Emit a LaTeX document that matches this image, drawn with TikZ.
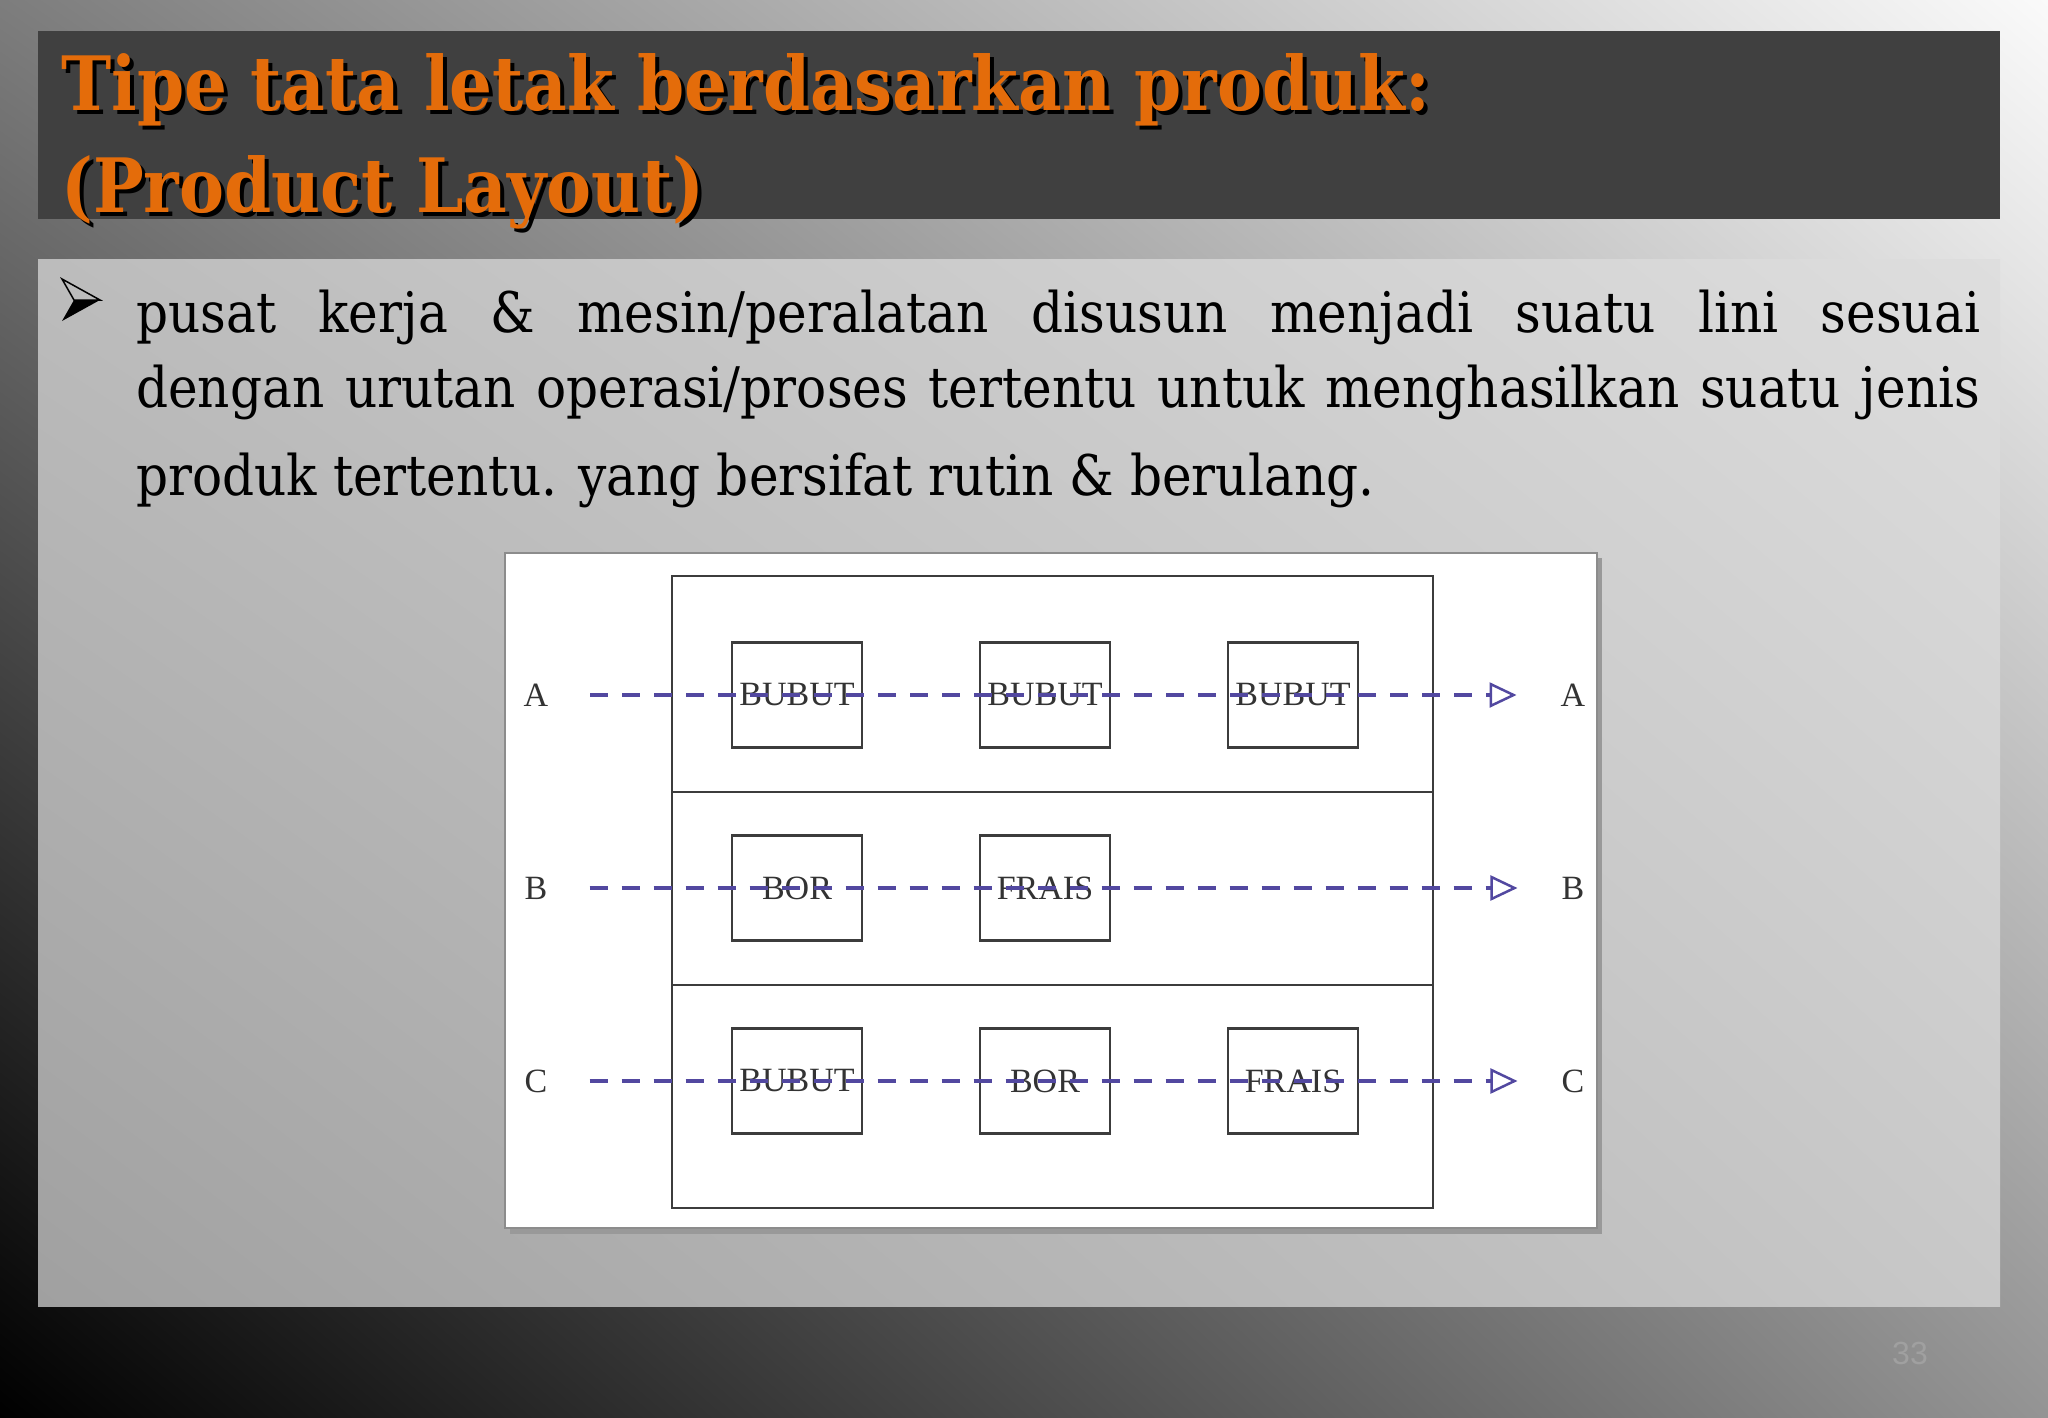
\documentclass[tikz,border=0pt]{standalone}
\usepackage{fontspec}
\usetikzlibrary{arrows.meta,shadings}
\newfontfamily\bodyfont{DejaVu Serif}[FakeStretch=0.895]
\newfontfamily\titlefont{DejaVu Serif}[FakeStretch=0.9]
\newfontfamily\diagfont{Liberation Serif}
\newfontfamily\numfont{Liberation Sans}
\definecolor{titleorange}{RGB}{228,108,10}
\definecolor{barbg}{RGB}{64,64,64}
\definecolor{flow}{RGB}{82,72,160}
\definecolor{boxline}{RGB}{60,60,60}
\definecolor{bgul}{RGB}{125,125,125}
\definecolor{bgur}{RGB}{250,250,250}
\definecolor{bglr}{RGB}{148,148,148}
\definecolor{pnul}{RGB}{188,188,188}
\definecolor{pnur}{RGB}{222,222,222}
\definecolor{pnll}{RGB}{160,160,160}
\definecolor{pnlr}{RGB}{200,200,200}
\definecolor{pagenum}{RGB}{160,160,160}
\begin{document}
\begin{tikzpicture}[x=1pt,y=-1pt,
  machine/.style={draw=boxline, line width=2.5pt, minimum width=130pt, minimum height=105pt, inner sep=0pt,
    font=\diagfont\fontsize{34}{34}\selectfont, text=black!80},
  rowlabel/.style={inner sep=0pt, font=\diagfont\fontsize{34}{34}\selectfont, text=black!80},
  flowline/.style={draw=flow, line width=3.5pt, dash pattern=on 18pt off 14pt,
    -{Triangle[open,length=27pt,width=25pt,line width=2.5pt]}, shorten <=42pt, shorten >=44pt},
  titletext/.style={anchor=base west, inner sep=0pt, font=\titlefont\bfseries\fontsize{75}{75}\selectfont},
  bodytext/.style={anchor=base west, inner sep=0pt, text=black, font=\bodyfont\fontsize{56}{56}\selectfont},
]
\useasboundingbox (0,0) rectangle (2048,1418);
% background
\shade[upper left=bgul, upper right=bgur, lower left=black, lower right=bglr] (0,0) rectangle (2048,1418);
% title bar
\fill[barbg] (38,31) rectangle (2000,219);
% content panel
\shade[upper left=pnul, upper right=pnur, lower left=pnll, lower right=pnlr] (38,259) rectangle (2000,1306);
% title
\node[titletext, text=black] at (65,115) {Tipe tata letak berdasarkan produk:};
\node[titletext, text=titleorange] (t1) at (61,111) {Tipe tata letak berdasarkan produk:};
\node[titletext, text=black] at (65,216) {(Product Layout)};
\node[titletext, text=titleorange] (t2) at (61,212) {(Product Layout)};
% bullet
\draw[black, line width=1.5pt, line join=miter] (62,279) -- (100,300) -- (74,300) -- cycle;
\fill[black] (74,300) -- (100,300) -- (62,321) -- cycle;
% body text
\node[bodytext] (b1) at (136,332) {\makebox[1844pt][s]{pusat kerja \& mesin/peralatan disusun menjadi suatu lini sesuai}};
\node[bodytext] (b2) at (136,407) {\makebox[1844pt][s]{dengan urutan operasi/proses tertentu untuk menghasilkan suatu jenis}};
\node[bodytext] (b3) at (136,495) {produk tertentu. yang bersifat rutin \& berulang.};
% diagram frame
\fill[black!40] (510,558) rectangle (1602,1234);
\filldraw[fill=white, draw=black!45, line width=1.5pt] (505,553) rectangle (1597,1228);
\draw[boxline, line width=2.5pt] (672,576) rectangle (1433,1208);
\draw[boxline, line width=2.5pt] (672,792) -- (1433,792);
\draw[boxline, line width=2.5pt] (672,985) -- (1433,985);
% machines
\node[machine] (a1) at (797,695) {BUBUT};
\node[machine] (a2) at (1045,695) {BUBUT};
\node[machine] (a3) at (1293,695) {BUBUT};
\node[machine] (b1m) at (797,888) {BOR};
\node[machine] (b2m) at (1045,888) {FRAIS};
\node[machine] (c1) at (797,1081) {BUBUT};
\node[machine] (c2) at (1045,1081) {BOR};
\node[machine] (c3) at (1293,1081) {FRAIS};
% row labels
\node[rowlabel] (la) at (536,695) {A};
\node[rowlabel] (ra) at (1573,695) {A};
\node[rowlabel] (lb) at (536,888) {B};
\node[rowlabel] (rb) at (1573,888) {B};
\node[rowlabel] (lc) at (536,1081) {C};
\node[rowlabel] (rc) at (1573,1081) {C};
% flows
\draw[flowline] (la) -- (ra);
\draw[flowline] (lb) -- (rb);
\draw[flowline] (lc) -- (rc);
% page number
\node[inner sep=0pt, text=pagenum, font=\numfont\fontsize{32}{32}\selectfont] (pn) at (1910,1353) {33};
\end{tikzpicture}
\end{document}
